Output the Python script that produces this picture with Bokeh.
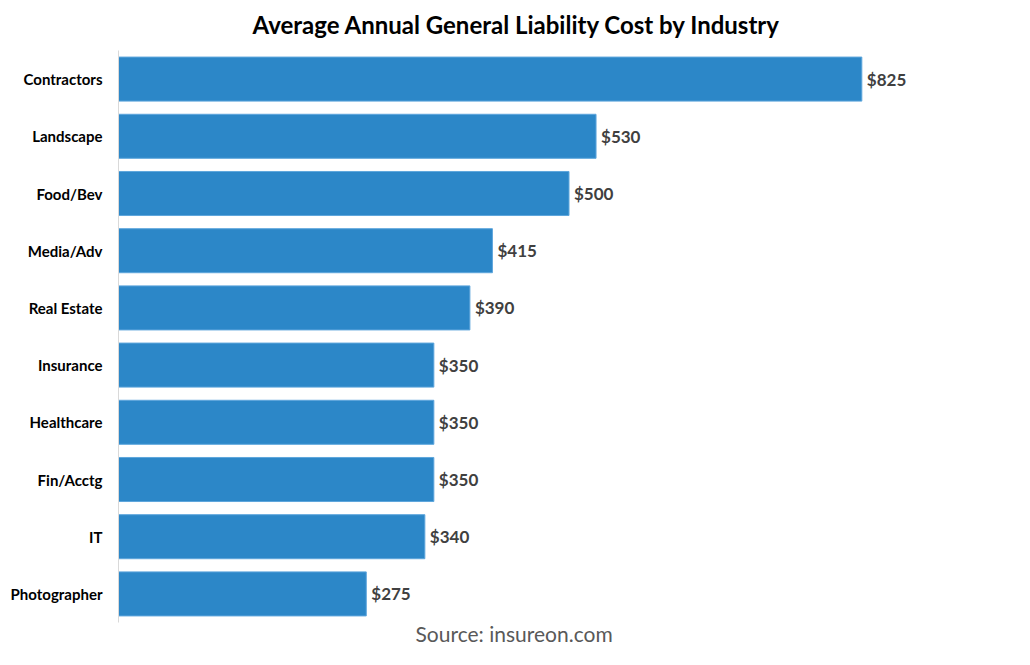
from bokeh.plotting import figure
from bokeh.models import FactorRange, Range1d, Title, ColumnDataSource
from bokeh.core.properties import value
from bokeh.embed import file_html
from bokeh.resources import INLINE

industries = ["Contractors", "Landscape", "Food/Bev", "Media/Adv", "Real Estate",
              "Insurance", "Healthcare", "Fin/Acctg", "IT", "Photographer"]
costs = [825, 530, 500, 415, 390, 350, 350, 350, 340, 275]
cost_labels = ["$825", "$530", "$500", "$415", "$390", "$350", "$350", "$350", "$340", "$275"]
title_text = "Average Annual General Liability Cost by Industry"
source_text = "Source: insureon.com"

FONT = "Lato"

src = ColumnDataSource(dict(ind=industries, cost=costs, lab=cost_labels))

p = figure(width=1030, height=665, output_backend="svg", toolbar_location=None,
           y_range=FactorRange(factors=industries[::-1], range_padding=0),
           x_range=Range1d(0, 980),
           min_border_left=118, min_border_right=29, min_border_top=50, min_border_bottom=43)
p.hbar(y="ind", right="cost", left=0, height=0.77, source=src,
       fill_color="#2C87C8", line_color="#5EA6DC", line_width=1)
p.text(x="cost", y="ind", text="lab", source=src, x_offset=5,
       text_baseline="middle", text_align="left",
       text_font=value(FONT), text_font_style="bold", text_font_size="17px",
       text_color="#404040")

p.xaxis.visible = False
p.xgrid.visible = False
p.ygrid.visible = False
p.outline_line_color = None
p.yaxis.axis_line_color = "#D9D9D9"
p.yaxis.major_tick_line_color = None
p.yaxis.minor_tick_line_color = None
p.yaxis.major_tick_out = 0
p.yaxis.major_label_standoff = 16
p.yaxis.major_label_text_font = FONT
p.yaxis.major_label_text_font_style = "bold"
p.yaxis.major_label_text_font_size = "15px"
p.yaxis.major_label_text_color = "#000000"

p.add_layout(Title(text=title_text, align="left", offset=134, vertical_align="top",
                   standoff=19, text_font=FONT, text_font_style="bold",
                   text_font_size="24px", text_color="#000000"), "above")
p.add_layout(Title(text=source_text, align="left", offset=297, vertical_align="top",
                   standoff=-4, text_font=FONT, text_font_style="normal",
                   text_font_size="21px", text_color="#595959"), "below")

open("out.html", "w").write(file_html(p, INLINE))
